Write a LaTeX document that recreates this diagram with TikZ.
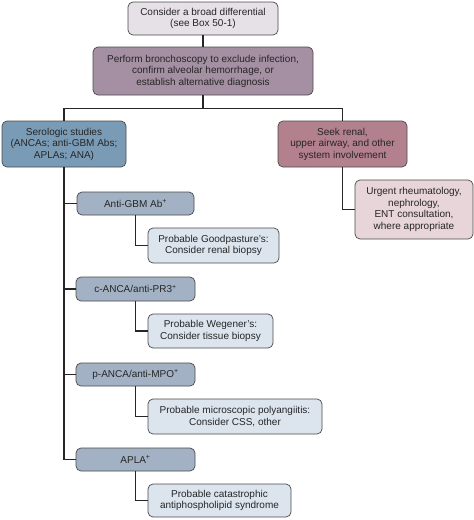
\documentclass[tikz,border=0pt]{standalone}
\usepackage{fontspec}
\setmainfont{Liberation Sans}
\usepackage{tikz}

\definecolor{lavlight}{HTML}{E6E0E7}
\definecolor{mauve}{HTML}{A48FA3}
\definecolor{steel}{HTML}{7A9BB6}
\definecolor{rosy}{HTML}{B3808D}
\definecolor{pinklight}{HTML}{E8D5D9}
\definecolor{bluemid}{HTML}{A2B2C4}
\definecolor{bluelight}{HTML}{DCE4EE}
\definecolor{edge}{HTML}{4A4A4A}

\begin{document}
\begin{tikzpicture}[x=1pt,y=-1pt,
  box/.style={draw=edge, line width=0.7pt, rounded corners=5pt, align=center,
    inner sep=2pt, text=black!85, font=\fontsize{10}{11.5}\selectfont},
  link/.style={line width=1.1pt, black!85}]

\useasboundingbox (0,0) rectangle (474,520);

% centres of the boxes
\coordinate (C1) at (203,18.5);
\coordinate (C2) at (203,71);
\coordinate (C3) at (64,144);
\coordinate (C4) at (342.5,144);
\coordinate (C5) at (414,209.5);
\coordinate (C6) at (135.5,203.5);
\coordinate (C7) at (213.5,245.5);
\coordinate (C8) at (135.5,289);
\coordinate (C9) at (210.5,331);
\coordinate (C10) at (135.5,374.5);
\coordinate (C11) at (235,416.5);
\coordinate (C12) at (135.5,459.5);
\coordinate (C13) at (219.5,500.5);

\node [box, fill=lavlight, minimum width=150pt, minimum height=33pt] (broad) at (C1)
  {Consider a broad differential\\(see Box 50-1)};
\node [box, fill=mauve, minimum width=220pt, minimum height=48pt] (bronch) at (C2)
  {Perform bronchoscopy to exclude infection,\\confirm alveolar hemorrhage, or\\establish alternative diagnosis};
\node [box, fill=steel, minimum width=124pt, minimum height=46pt] (sero) at (C3)
  {Serologic studies\\(ANCAs; anti-GBM Abs;\\APLAs; ANA)};
\node [box, fill=rosy, minimum width=129pt, minimum height=46pt] (seek) at (C4)
  {Seek renal,\\upper airway, and other\\system involvement};
\node [box, fill=pinklight, minimum width=118pt, minimum height=59pt] (urgent) at (C5)
  {Urgent rheumatology,\\nephrology,\\ENT consultation,\\where appropriate};
\node [box, fill=bluemid, minimum width=117pt, minimum height=23pt] (gbm) at (C6)
  {Anti-GBM Ab\textsuperscript{+}};
\node [box, fill=bluelight, minimum width=131pt, minimum height=35pt] (goodp) at (C7)
  {Probable Goodpasture's:\\Consider renal biopsy};
\node [box, fill=bluemid, minimum width=119pt, minimum height=24pt] (canca) at (C8)
  {c-ANCA/anti-PR3\textsuperscript{+}};
\node [box, fill=bluelight, minimum width=125pt, minimum height=34pt] (wegen) at (C9)
  {Probable Wegener's:\\Consider tissue biopsy};
\node [box, fill=bluemid, minimum width=119pt, minimum height=23pt] (panca) at (C10)
  {p-ANCA/anti-MPO\textsuperscript{+}};
\node [box, fill=bluelight, minimum width=174pt, minimum height=35pt] (micro) at (C11)
  {Probable microscopic polyangiitis:\\Consider CSS, other};
\node [box, fill=bluemid, minimum width=119pt, minimum height=23pt] (apla) at (C12)
  {APLA\textsuperscript{+}};
\node [box, fill=bluelight, minimum width=143pt, minimum height=33pt] (catas) at (C13)
  {Probable catastrophic\\antiphospholipid syndrome};

\draw [link] (broad) -- (bronch);
\draw [link] (bronch.south) -- ++(0,13) coordinate (split);
\draw [link] (split) -| (sero.north);
\draw [link] (split) -| (seek.north);
\draw [link] (seek.south) |- (urgent.west);
\draw [link] (sero.south) |- (apla.west);
\draw [link] (sero.south) |- (gbm.west);
\draw [link] (sero.south) |- (canca.west);
\draw [link] (sero.south) |- (panca.west);
\draw [link] (gbm.south) |- (goodp.west);
\draw [link] (canca.south) |- (wegen.west);
\draw [link] (panca.south) |- (micro.west);
\draw [link] (apla.south) |- (catas.west);
\end{tikzpicture}
\end{document}
